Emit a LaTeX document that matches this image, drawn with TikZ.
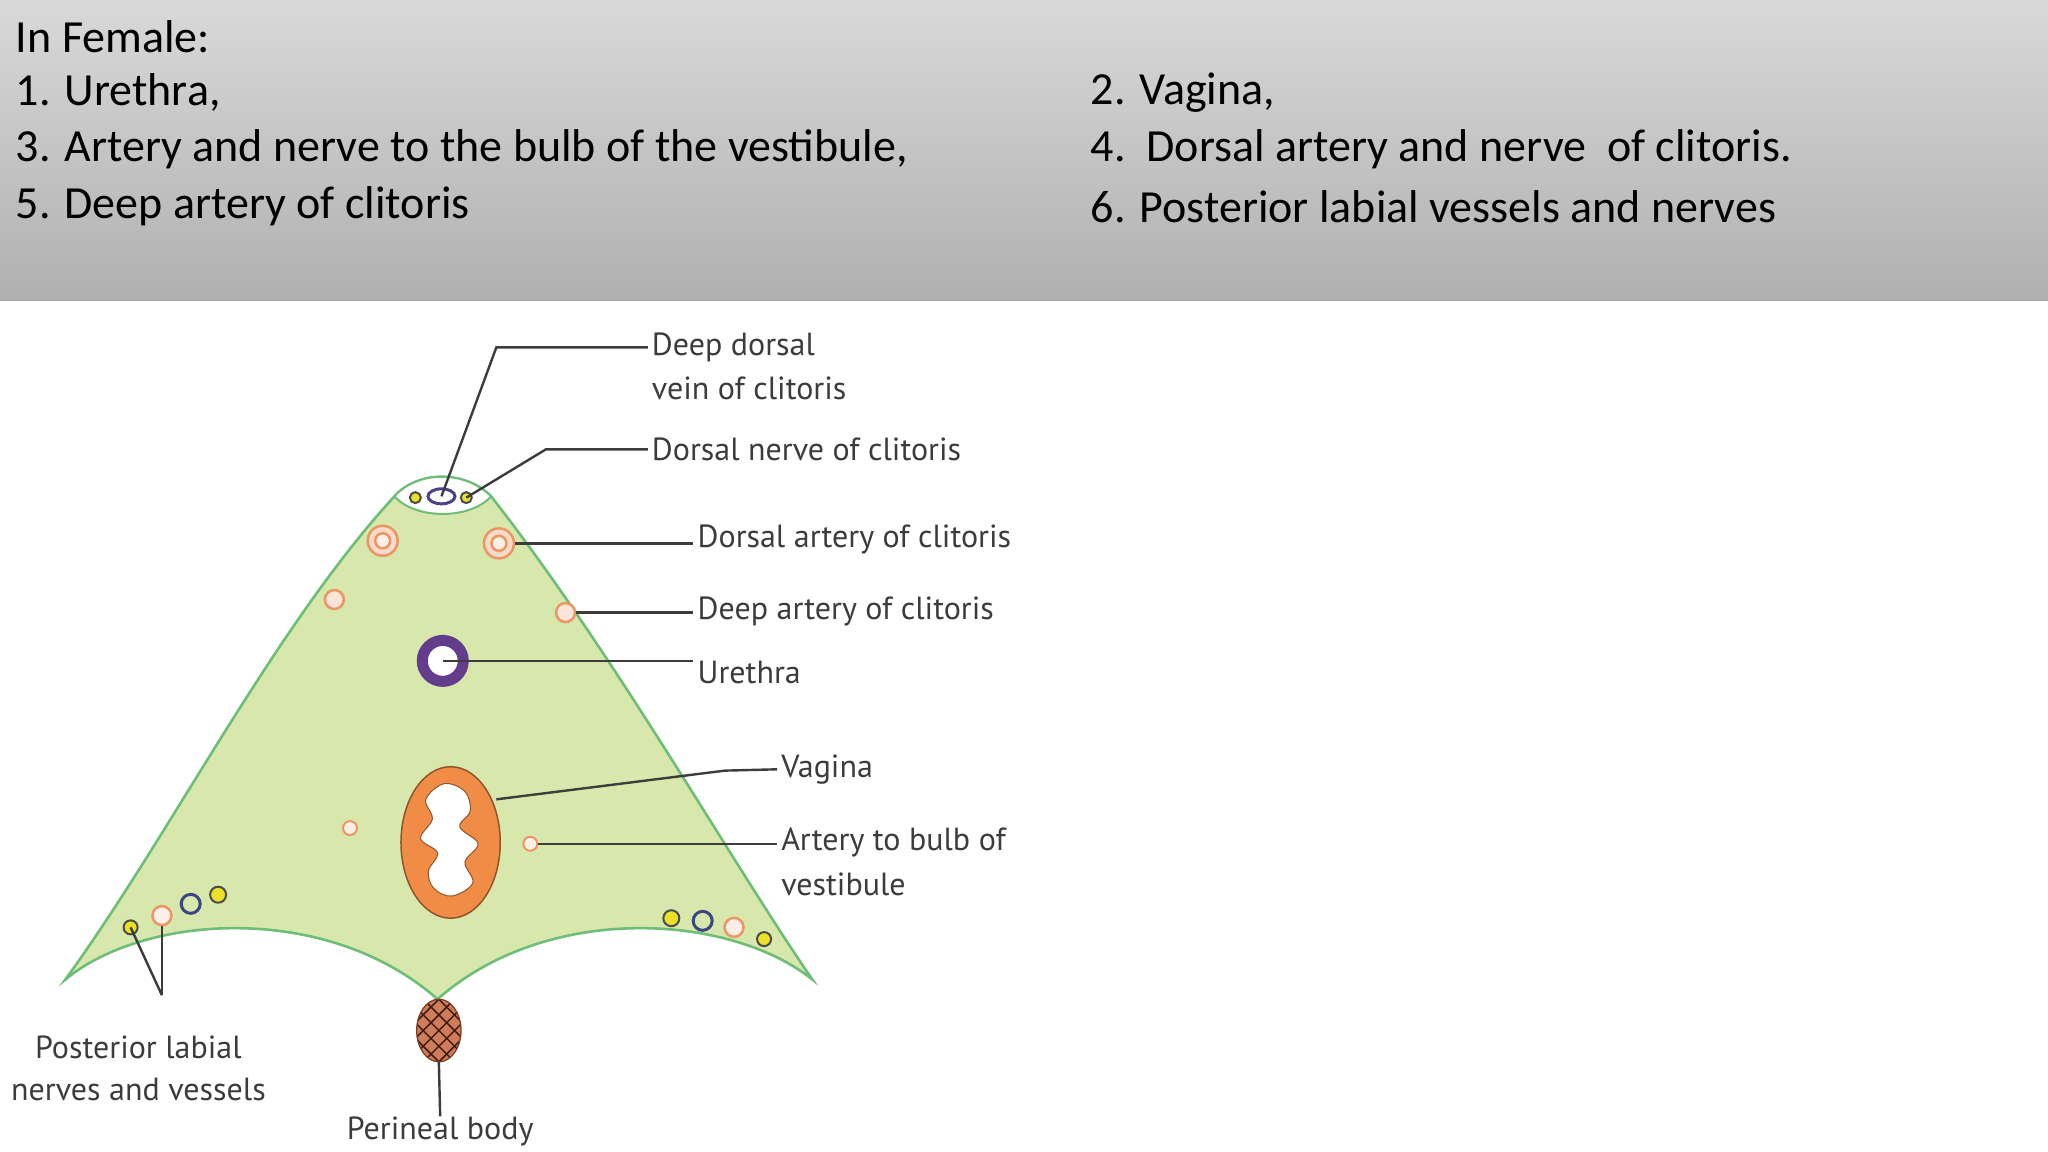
\documentclass[tikz,border=0pt]{standalone}
\usepackage{fontspec}
\setmainfont{Carlito}
\newfontfamily\lblfont{PT Sans}
\usetikzlibrary{patterns,shapes.geometric}
\definecolor{tissue}{RGB}{216,232,172}
\definecolor{tedge}{RGB}{110,190,120}
\definecolor{lead}{RGB}{60,60,60}
\definecolor{org}{RGB}{240,140,70}
\definecolor{lorg}{RGB}{235,150,100}
\definecolor{yel}{RGB}{235,225,40}
\definecolor{blu}{RGB}{60,70,130}
\definecolor{purp}{RGB}{100,60,140}
\definecolor{brn}{RGB}{200,100,60}
\tikzset{
  hdr/.style={anchor=west,inner sep=0pt,font=\fontsize{46}{54}\selectfont},
  lbl/.style={anchor=west,inner sep=0pt,text=lead,font=\lblfont\fontsize{32}{38}\selectfont},
  leader/.style={draw=lead,line width=2.4pt},
  ydot/.style={draw=black!70,fill=yel,line width=2pt},
}
\begin{document}
\begin{tikzpicture}[x=1.306pt,y=-1.306pt]
\useasboundingbox (0,0) rectangle (1568,882);
\fill[white] (0,0) rectangle (1568,882);
\shade[top color=gray!30,bottom color=gray!62] (0,0) rectangle (1568,230);
\draw[gray!70] (0,230) -- (1568,230);
\node[hdr] (h0) at (12,28) {In Female:};
\node[hdr] (h1) at (12,71) {1. Urethra,};
\node[hdr] (h2) at (835,71) {2. Vagina,};
\node[hdr] (h3) at (12,114) {3. Artery and nerve to the bulb of the vestibule,};
\node[hdr] (h4) at (835,114) {4.\ \ Dorsal artery and nerve\ \ of clitoris.};
\node[hdr] (h5) at (12,158) {5. Deep artery of clitoris};
\node[hdr] (h6) at (835,158) {6. Posterior labial vessels and nerves};
% tissue
\fill[tissue,draw=tedge,line width=2.6pt]
  (302,380) .. controls (320,360) and (356,360) .. (376,380)
  .. controls (470,500) and (560,660) .. (622,750)
  .. controls (560,700) and (420,690) .. (335,765)
  .. controls (250,690) and (110,700) .. (50,750)
  .. controls (130,640) and (210,480) .. (302,380) -- cycle;
\fill[white,draw=tedge,line width=2pt]
  (302,380) .. controls (320,360) and (356,360) .. (376,380)
  .. controls (360,398) and (318,398) .. (302,380) -- cycle;
% structures
\node[circle,ydot,minimum size=11pt,inner sep=0] (n1) at (318,381) {};
\node[circle,ydot,minimum size=11pt,inner sep=0] (n2) at (357,381) {};
\node[ellipse,draw=blu!60!purp,line width=3pt,fill=white,minimum width=27pt,minimum height=15pt,inner sep=0] (v) at (338,380) {};
\foreach \n/\x/\y in {da1/293/414,da2/382/416}{
 \node[circle,draw=lorg,line width=2.5pt,fill=lorg!35,minimum size=30pt,inner sep=0] (\n) at (\x,\y) {};
 \node[circle,draw=lorg,line width=2.5pt,fill=lorg!15,minimum size=15pt,inner sep=0] at (\x,\y) {};}
\node[circle,draw=lorg,line width=2.5pt,fill=lorg!25,minimum size=19pt,inner sep=0] (de1) at (256,459) {};
\node[circle,draw=lorg,line width=2.5pt,fill=lorg!25,minimum size=19pt,inner sep=0] (de2) at (433,469) {};
\node[circle,draw=purp,fill=white,line width=11pt,minimum size=41pt,inner sep=0] (u) at (339,506) {};
\node[circle,draw=lorg,line width=2pt,fill=lorg!15,minimum size=14pt,inner sep=0] (b1) at (268,634) {};
\node[circle,draw=lorg,line width=2pt,fill=lorg!15,minimum size=14pt,inner sep=0] (b2) at (406,646) {};
\fill[org,draw=org!60!black,line width=1.5pt] (345,645) ellipse [x radius=38,y radius=58];
\fill[white,draw=org!60!black,line width=1pt] plot[smooth cycle,tension=0.6] coordinates {(340,600) (356,606) (360,621) (352,633) (366,646) (356,660) (362,676) (346,686) (332,680) (328,667) (335,653) (322,642) (331,627) (326,612)};
\coordinate (vg) at (380,612);
% posterior labial
\node[circle,ydot,minimum size=14pt,inner sep=0] (l1) at (100,710) {};
\node[circle,draw=lorg,line width=2.5pt,fill=lorg!15,minimum size=19pt,inner sep=0] (l2) at (124,701) {};
\node[circle,draw=blu,line width=3pt,fill=tissue,minimum size=19pt,inner sep=0] (l3) at (146,692) {};
\node[circle,ydot,minimum size=16pt,inner sep=0] (l4) at (167,685) {};
\node[circle,ydot,minimum size=16pt,inner sep=0] (r1) at (514,703) {};
\node[circle,draw=blu,line width=3pt,fill=tissue,minimum size=19pt,inner sep=0] (r2) at (538,705) {};
\node[circle,draw=lorg,line width=2.5pt,fill=lorg!15,minimum size=19pt,inner sep=0] (r3) at (562,710) {};
\node[circle,ydot,minimum size=14pt,inner sep=0] (r4) at (585,719) {};
% perineal body
\fill[brn!85] (336,789) ellipse [x radius=17,y radius=24];
\begin{scope}
\clip (336,789) ellipse [x radius=17,y radius=24];
\foreach \k in {-60,-48,...,60}{
 \draw[brn!30!black,line width=1.5pt] (336+\k-30,759) -- (336+\k+30,819);
 \draw[brn!30!black,line width=1.5pt] (336+\k+30,759) -- (336+\k-30,819);}
\end{scope}
\draw[brn!60!black,line width=1.2pt] (336,789) ellipse [x radius=17,y radius=24];
\coordinate (pb) at (336,813);
% labels
\begin{scope}
\clip (0,231) rectangle (782,882);
\node[lbl] (t1) at (499,266) {Deep dorsal};
\node[lbl] (t1b) at (499,297) {vein of clitoris};
\node[lbl] (t2) at (499,344) {Dorsal nerve of clitoris};
\node[lbl] (t3) at (534,413) {Dorsal artery of clitoris};
\node[lbl] (t4) at (534,468) {Deep artery of clitoris};
\node[lbl] (t5) at (534,515) {Urethra};
\node[lbl] (t6) at (598,589) {Vagina};
\node[lbl] (t7) at (598,645) {Artery to bulb of};
\node[lbl] (t7b) at (598,677) {vestibule};
\end{scope}
\node[lbl,anchor=center] (t8) at (106,802) {Posterior labial};
\node[lbl,anchor=center] (t8b) at (106,834) {nerves and vessels};
\node[lbl,anchor=center] (t9) at (337,866) {Perineal body};
% leaders
\draw[leader] (v.center) -- (380,266) -- ([xshift=-4pt]t1.west);
\draw[leader] (n2.center) -- (418,344) -- ([xshift=-4pt]t2.west);
\draw[leader] (da2.center -| da2.east) -- ([xshift=-4pt]t3.west |- da2.center);
\draw[leader] (de2.east) -- ([xshift=-4pt]t4.west |- de2.east);
\draw[leader] (u.center) -- ([xshift=-4pt]t5.west |- u.center);
\draw[leader] (vg) -- (555,590) -- ([xshift=-4pt]t6.west);
\draw[leader] (b2.east) -- ([xshift=-4pt]t7.west |- b2.east);
\coordinate (pl) at (124,762);
\draw[leader] (l1.center) -- (pl);
\draw[leader] (l2.south) -- (pl);
\draw[leader] (pb) -- (t9.north);
\end{tikzpicture}
\end{document}
